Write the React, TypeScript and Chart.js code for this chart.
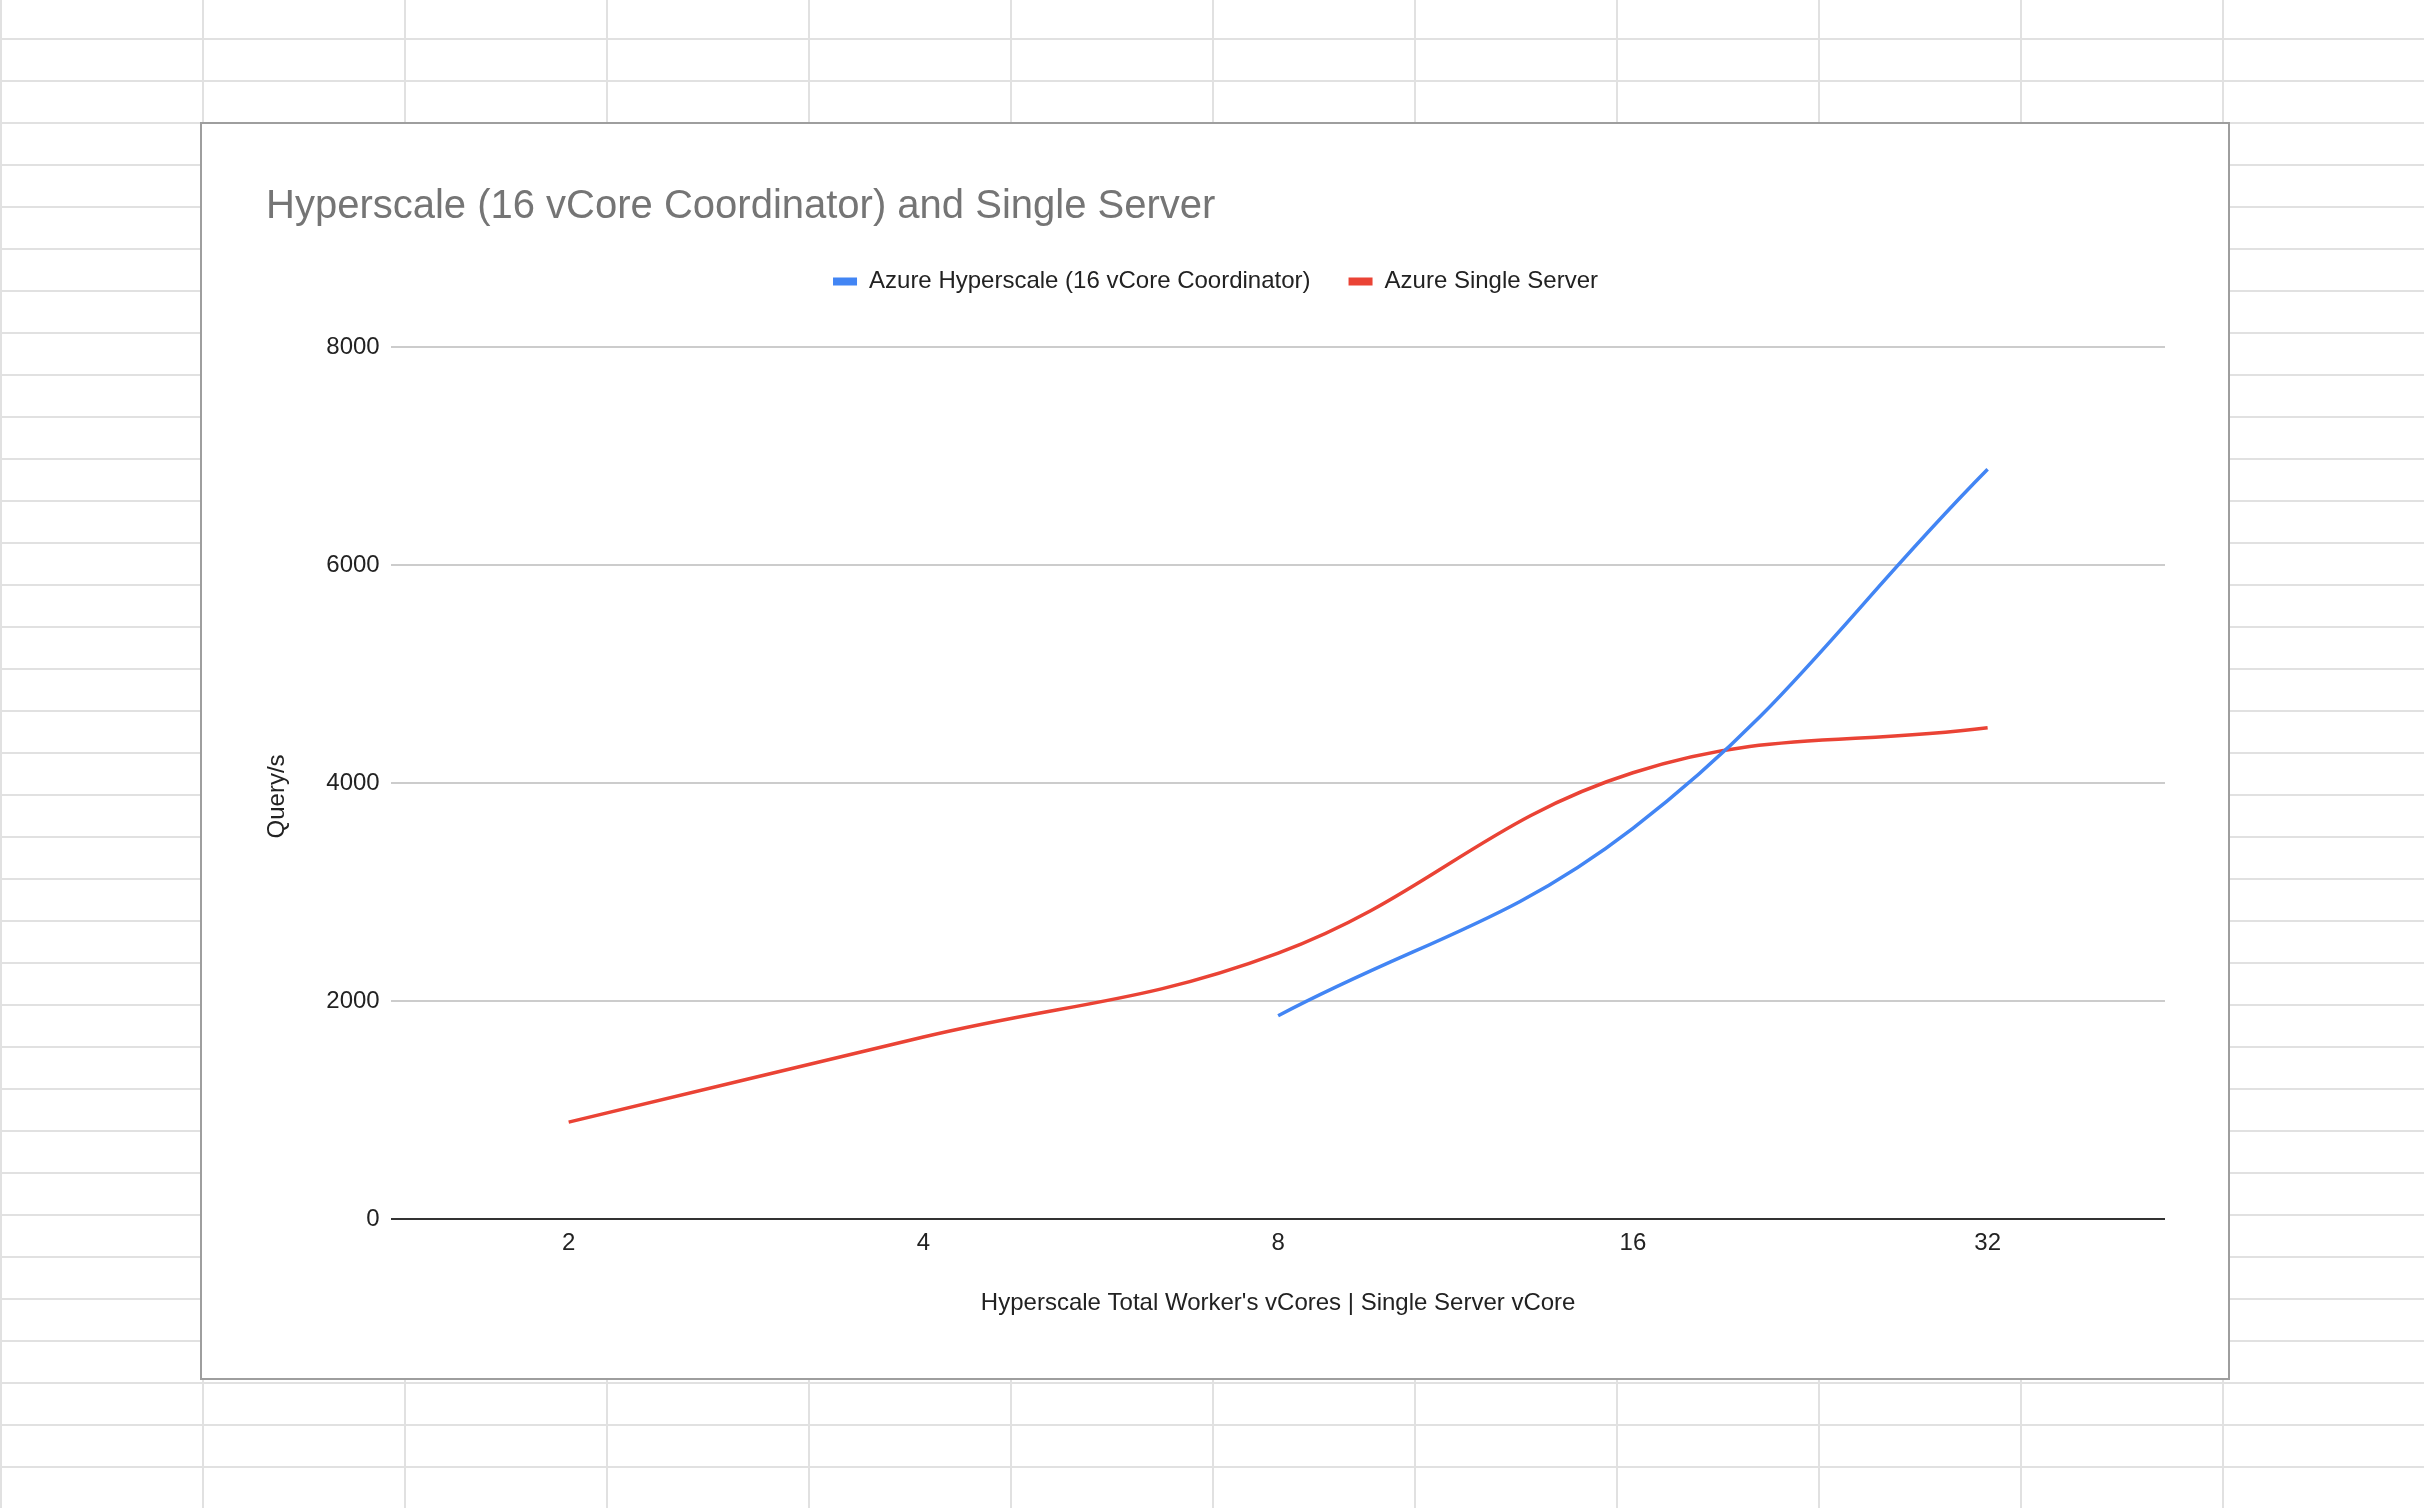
import React, { useEffect, useRef } from 'react';
import { Chart, registerables } from 'chart.js';

Chart.register(...registerables);

const categories = ['2', '4', '8', '16', '32'];
const hyperscaleValues: (number | null)[] = [null, null, 1865, 3585, 6880];
const singleServerValues: number[] = [889, 1670, 2440, 4095, 4507];
const yTicks = [0, 2000, 4000, 6000, 8000];
const seriesLabels = ['Azure Hyperscale (16 vCore Coordinator)', 'Azure Single Server'];
const chartTitle = 'Hyperscale (16 vCore Coordinator) and Single Server';
const xAxisTitle = "Hyperscale Total Worker's vCores | Single Server vCore";
const yAxisTitle = 'Query/s';

const FONT = "Arial, 'Liberation Sans', Helvetica, sans-serif";
const CANVAS_W = 2026;
const CANVAS_H = 1254;

const legendSpacer = {
  id: 'legendSpacer',
  beforeLayout(chart: any) {
    const legend = chart.legend;
    if (!legend || legend.__patched) return;
    const orig = legend.fit;
    legend.fit = function () {
      orig.call(this);
      this.height += 43.7;
    };
    legend.__patched = true;
  },
};

export default function App() {
  const canvasRef = useRef<HTMLCanvasElement | null>(null);

  useEffect(() => {
    if (!canvasRef.current) return;
    const chart = new Chart(canvasRef.current, {
      type: 'line',
      data: {
        labels: categories,
        datasets: [
          {
            label: seriesLabels[0],
            data: hyperscaleValues,
            borderColor: '#4285f4',
            backgroundColor: '#4285f4',
            borderWidth: 3.5,
            pointRadius: 0,
            pointHoverRadius: 0,
            tension: 0.4,
            fill: false,
          },
          {
            label: seriesLabels[1],
            data: singleServerValues,
            borderColor: '#ea4335',
            backgroundColor: '#ea4335',
            borderWidth: 3.5,
            pointRadius: 0,
            pointHoverRadius: 0,
            tension: 0.4,
            fill: false,
          },
        ],
      },
      options: {
        animation: false,
        responsive: false,
        maintainAspectRatio: false,
        layout: { padding: { left: 64, right: 63, top: 0, bottom: 0 } },
        plugins: {
          tooltip: { enabled: false },
          title: {
            display: true,
            text: chartTitle,
            align: 'start',
            color: '#757575',
            font: { family: FONT, size: 40, weight: 'normal' },
            padding: { top: 59, bottom: 0.5 },
          },
          legend: {
            display: true,
            position: 'top',
            align: 'center',
            labels: {
              boxWidth: 24,
              boxHeight: 8,
              padding: 38,
              color: '#222222',
              font: { family: FONT, size: 24 },
              generateLabels: (c: any) =>
                Chart.defaults.plugins.legend.labels
                  .generateLabels(c)
                  .map((l: any) => ({ ...l, lineWidth: 0 })),
            },
          },
        },
        scales: {
          x: {
            type: 'category',
            offset: true,
            grid: { display: false, drawTicks: false },
            border: { display: false },
            ticks: {
              color: '#222222',
              font: { family: FONT, size: 24 },
              padding: 10,
              maxRotation: 0,
            },
            title: {
              display: true,
              text: xAxisTitle,
              color: '#222222',
              font: { family: FONT, size: 24 },
              padding: { top: 20.8, bottom: 60.6 },
            },
          },
          y: {
            min: yTicks[0],
            max: yTicks[yTicks.length - 1],
            ticks: {
              stepSize: yTicks[1] - yTicks[0],
              color: '#222222',
              font: { family: FONT, size: 24 },
              padding: 11.6,
              callback: (v: any) => String(v),
            },
            grid: {
              drawTicks: false,
              color: (ctx: any) => (ctx.tick && ctx.tick.value === 0 ? '#333333' : '#cccccc'),
              lineWidth: 2,
            },
            border: { display: false },
            title: {
              display: true,
              text: yAxisTitle + '    ',
              color: '#222222',
              font: { family: FONT, size: 24 },
              padding: { top: -3, bottom: 22.9 },
            },
          },
        },
      },
      plugins: [legendSpacer],
    } as any);
    return () => chart.destroy();
  }, []);

  return (
    <div
      style={{
        position: 'fixed',
        left: 0,
        top: 0,
        width: 2424,
        height: 1508,
        overflow: 'hidden',
        backgroundColor: '#ffffff',
        backgroundImage:
          'linear-gradient(to right, #e1e1e1 2px, transparent 2px), linear-gradient(to bottom, #e1e1e1 2px, transparent 2px)',
        backgroundSize: '202px 42px, 202px 42px',
        backgroundPosition: '0px 0px, 0px 38px',
      }}
    >
      <div
        style={{
          position: 'absolute',
          left: 200,
          top: 122,
          width: 2030,
          height: 1258,
          boxSizing: 'border-box',
          border: '2px solid #9e9e9e',
          background: '#ffffff',
        }}
      >
        <canvas
          ref={canvasRef}
          width={CANVAS_W}
          height={CANVAS_H}
          style={{ display: 'block', width: CANVAS_W, height: CANVAS_H }}
        />
      </div>
    </div>
  );
}
